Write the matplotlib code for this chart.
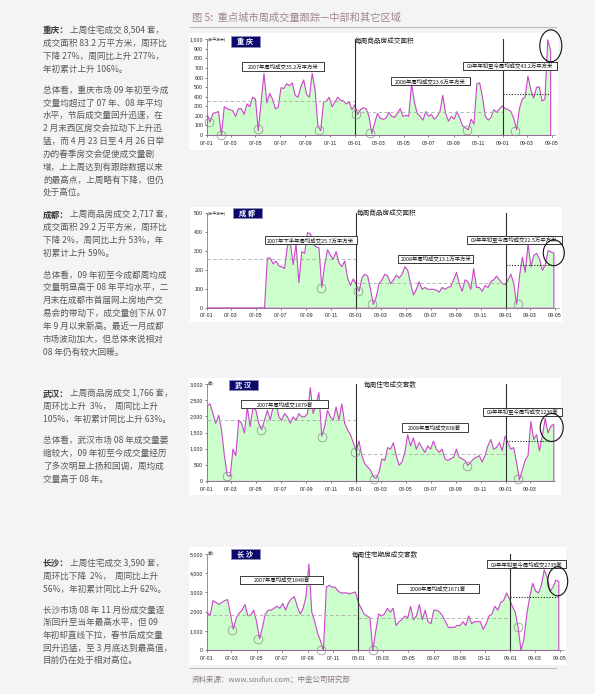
import pandas as pd
import matplotlib
matplotlib.use('Agg')
import matplotlib.pyplot as plt
import matplotlib.dates as mdates
from matplotlib.patches import Ellipse, Rectangle
from matplotlib.ticker import FuncFormatter, MultipleLocator

plt.rcParams['font.family'] = ['Noto Sans CJK SC', 'DejaVu Sans']

W, H = 595, 694
PAGE = '#f4f4f4'
FILL = '#ccffcc'
LINE = '#cc44cc'

# weekly data, first week 2007-01-01
weeks = pd.date_range('2007-01-01', periods=122, freq='7D')

# 重庆 每周商品房成交面积 (千平方米)
cq_area = [220, 140, 230, 240, 250, 0, 300, 280, 270, 260, 200, 280, 280, 220, 330, 300,
           400, 380, 50, 350, 650, 340,
           440, 380, 280, 290, 500, 490, 540, 520, 550, 420, 400, 510, 580, 430, 400, 650,
           480, 100, 50, 350, 360, 400, 300, 350, 400, 370, 360, 330, 350, 270,
           320, 220, 270, 290, 280, 200, 20, 130, 230, 180, 170, 180, 240, 200, 190, 230,
           280, 200, 210, 200, 540, 350, 230, 200, 160, 250, 200, 220, 170, 200, 250,
           420, 230, 150, 200, 170, 250, 180, 100, 80, 60, 170, 120, 540, 550, 400, 200,
           160, 190, 270, 240, 280, 310, 280, 270, 250, 180, 60, 280, 380, 400, 620, 480,
           390, 500, 510, 360, 380, 1000, 880]

# 成都 每周商品房成交面积 (千平方米)
cd_area = [0] * 21 + [
    265, 265, 235, 250, 225, 220, 210, 330, 350, 230, 340, 135, 300, 290, 400, 395,
    340, 325, 320, 110, 230, 310, 280, 260, 300, 240, 220, 250, 160, 120, 155, 125,
    90, 160, 180, 170, 100, 20, 60, 130, 150, 180, 170, 130, 150, 175, 160, 180, 220, 200,
    130, 70, 100, 140, 100, 110, 100, 100, 100, 95, 85, 110, 100, 110, 115, 150, 190,
    130, 90, 150, 140, 100, 210, 110, 110, 90, 120, 110, 140, 150, 170, 150, 130, 125,
    150, 180, 130, 20, 170, 270, 190, 340, 220, 280, 290, 260, 200, 230, 305, 298, 292]

# 武汉 每周住宅成交套数
wh_units = [2350, 2400, 2100, 1800, 2050, 1600, 800, 200, 150, 1000,
            800, 1900, 1800, 1500, 2300, 1700, 2300, 2200, 1800, 1600,
            1900, 2200, 1900, 2300, 2500, 2000, 1900, 2100, 2000, 1800,
            2000, 1900, 2100, 2000, 2000, 2100, 2900, 2100, 2400, 2750,
            1400, 1700, 2200, 2000, 1900, 2300, 1900, 2400, 1800, 1600,
            1450, 1200, 950, 1250, 800, 550, 450, 350, 150, 100,
            300, 700, 650, 1050, 1000, 1200, 800, 500, 600, 900,
            1450, 1100, 1350, 1000, 1200, 1050, 900, 1100, 1000, 1250,
            1000, 900, 1000, 700, 650, 700, 750, 1000, 750, 700,
            650, 500, 600, 700, 750, 800, 600, 800, 1100, 1300,
            1000, 1050, 1200, 950, 1400, 1200, 1000, 1050, 600, 50,
            350, 650, 800, 1850, 1300, 1450, 950, 1400, 1950, 1500,
            1715, 1766]

# 长沙 每周住宅期房成交套数
cs_units = [2000, 1800, 2600, 2500, 2400, 2500, 2600, 2650, 1900, 1100,
            1700, 1950, 2100, 2400, 1800, 1850, 2100, 1500, 600, 1200,
            1900, 2100, 2100, 2200, 2300, 2200, 2450, 2100, 2500, 2700,
            2800, 2300, 1900, 2200, 2800, 4500, 2000, 1500, 900, 500,
            0, 3300, 3400, 3300, 3300, 3100, 3000, 3000, 3000, 2950,
            3000, 3050, 2500, 2200, 1900, 1800, 1700, 0, 1000, 1900,
            1800, 1900, 2200, 2000, 2200, 1300, 1500, 1600, 1800, 1700,
            2300, 1600, 1800, 2400, 1600, 2100, 1500, 1400, 2100, 2100,
            2000, 1800, 1500, 1200, 1200, 1200, 1300, 1300, 1500, 1300,
            1800, 1400, 1500, 1500, 1500, 1100, 1400, 1800, 1900, 2300,
            2100, 2500, 2600, 3000, 2700, 2300, 2000, 1200, 0, 600,
            1900, 2800, 3500, 3100, 3000, 3400, 4200, 3800, 3100, 3300,
            3663, 3590]

# weekly averages: 2007, 2008, 2009 YTD
cq_avg = [352, 236, 432]
cd_avg = [257, 131, 225]
wh_avg = [1879, 838, 1236]
cs_avg = [1848, 1671, 2735]

cq_notes = ['2007年周均成交35.2万平方米', '2008年周均成交23.6万平方米', '09年年初至今周均成交43.2万平方米']
cd_notes = ['2007年下半年周均成交25.7万平方米', '2008年周均成交13.1万平方米', '09年年初至今周均成交22.5万平方米']
wh_notes = ['2007年周均成交1879套', '2008年周均成交838套', '09年年初至今周均成交1236套']
cs_notes = ['2007年周均成交1848套', '2008年周均成交1671套', '09年年初至今周均成交2735套']

# circled low points: (week index, value)
cq_marks = [(0.9, 139), (5, 0), (17.9, 63), (39.6, 52), (52.7, 216), (57.7, 17), (91.7, 52), (108.5, 45)]
cd_marks = [(39.9, 106), (52.9, 88), (57.6, 18), (108.7, 18)]
wh_marks = [(7, 155), (19, 1577), (40.1, 1350), (51.7, 897), (58.5, 72), (91, 474), (108.7, 62)]
cs_marks = [(8.8, 1042), (17.7, 556), (39.5, 0), (57.4, 0), (107, 1180)]

# left column text
cq_text = [['重庆：', '上周住宅成交 8,504 套，', '成交面积 83.2 万平方米，周环比', '下降 27%，周同比上升 277%，',
            '年初累计上升 106%。'],
           ['总体看，重庆市场 09 年初至今成', '交量均超过了 07 年、08 年平均', '水平，节后成交量回升迅速，在',
            '2 月末西区房交会拉动下上升迅', '猛，而 4 月 23 日至 4 月 26 日举', '办的春季房交会促使成交量剧',
            '增，上上周达到有跟踪数据以来', '的最高点，上周略有下降，但仍', '处于高位。']]
cd_text = [['成都：', '上周商品房成交 2,717 套，', '成交面积 29.2 万平方米，周环比', '下降 2%，周同比上升 53%，年',
            '初累计上升 59%。'],
           ['总体看，09 年初至今成都周均成', '交量明显高于 08 年平均水平，二', '月末在成都市首届网上房地产交',
            '易会的带动下，成交量创下从 07', '年 9 月以来新高。最近一月成都', '市场波动加大，但总体来说相对',
            '08 年仍有较大回暖。']]
wh_text = [['武汉：', '上周商品房成交 1,766 套，', '周环比上升  3%，  周同比上升', '105%，年初累计同比上升 63%。'],
           ['总体看，武汉市场 08 年成交量萎', '缩较大，09 年初至今成交量经历', '了多次明显上扬和回调，周均成',
            '交量高于 08 年。']]
cs_text = [['长沙：', '上周住宅成交 3,590 套，', '周环比下降  2%，  周同比上升', '56%，年初累计同比上升 62%。'],
           ['长沙市场 08 年 11 月份成交量逐', '渐回升至当年最高水平，但 09', '年初却直线下拉，春节后成交量',
            '回升迅猛，至 3 月底达到最高值，', '目前仍在处于相对高位。']]


def fx(x):
    return x / W


def fy(y):
    return 1 - y / H


def px_box(fig, cx, cy, w, h, **kw):
    fig.add_artist(Rectangle((fx(cx - w / 2), fy(cy + h / 2)), w / W, h / H,
                             transform=fig.transFigure, **kw))


def draw_city(fig, cfg, values, avg, notes, marks, end):
    left, top, width, height = cfg['rect']
    # white panel behind the chart
    pl, pt, pr, pb = cfg['panel']
    fig.add_artist(Rectangle((fx(pl), fy(pb)), (pr - pl) / W, (pb - pt) / H,
                             transform=fig.transFigure, facecolor='white',
                             edgecolor='none', zorder=-1))
    ax = fig.add_axes([fx(left), fy(top + height), width / W, height / H])
    ax.set_facecolor('none')
    ax.fill_between(weeks, values, color=FILL, edgecolor=LINE, linewidth=0.8, zorder=2)

    y07 = pd.Timestamp('2007-01-01')
    y08 = pd.Timestamp('2008-01-01')
    y09 = pd.Timestamp('2009-01-01')
    ax.hlines(avg[0], y07, y08, colors='#a8a8a8', linestyles=(0, (4, 3)), linewidth=0.6, zorder=3)
    ax.hlines(avg[1], y08, y09, colors='#a8a8a8', linestyles=(0, (4, 3)), linewidth=0.6, zorder=3)
    ax.hlines(avg[2], y09, weeks[-1], colors='#202020', linestyles=(0, (1, 1.5)), linewidth=0.8, zorder=3)
    ax.axvline(y08, color='#303030', linewidth=0.8, zorder=4)
    ax.axvline(y09, color='#303030', linewidth=0.8, zorder=4)

    for wk, v in marks:
        ax.plot(weeks[0] + pd.Timedelta(days=7 * wk), v, marker='o', markersize=6.3,
                markerfacecolor='none', markeredgecolor='#8a8a8a', markeredgewidth=0.5,
                zorder=5, clip_on=False)

    ax.set_xlim(weeks[0], pd.Timestamp(end))
    ax.set_ylim(0, cfg['ymax'])
    ax.xaxis.set_major_locator(mdates.MonthLocator(bymonth=[1, 3, 5, 7, 9, 11]))
    ax.xaxis.set_major_formatter(mdates.DateFormatter('%y-%m'))
    ax.yaxis.set_major_locator(MultipleLocator(cfg['ystep']))
    ax.yaxis.set_major_formatter(FuncFormatter(lambda v, p: f'{int(v):,}'))
    ax.tick_params(axis='both', length=1.5, width=0.4, labelsize=3.8, colors='#202020')
    ax.tick_params(axis='x', pad=2.5)
    ax.tick_params(axis='y', pad=1)
    for lab in ax.get_xticklabels() + ax.get_yticklabels():
        lab.set_family('Liberation Sans')
    for s in ['top', 'right']:
        ax.spines[s].set_visible(False)
    ax.spines['left'].set_color('#808080')
    ax.spines['left'].set_linewidth(0.6)
    ax.spines['bottom'].set_color('#808080')
    ax.spines['bottom'].set_linewidth(0.5)

    # city tag
    cx, cy = cfg['tag']
    px_box(fig, cx, cy, 29, 10, facecolor='#0a0a6e', edgecolor='#9090b0', linewidth=0.5, zorder=6)
    fig.text(fx(cx), fy(cy), cfg['city'], color='white', fontsize=5.2, fontweight='bold',
             ha='center', va='center', zorder=7)
    ux, uy = cfg['unit']
    fig.text(fx(ux), fy(uy), cfg['unit_text'], fontsize=2.8, color='#303030', va='center', zorder=7)
    tx, ty = cfg['title_pos']
    fig.text(fx(tx), fy(ty), cfg['title'], fontsize=4.8, color='#202020', va='center', zorder=7)

    for (bx, by, bw), txt in zip(cfg['boxes'], notes):
        px_box(fig, bx + 0.8, by + 0.8, bw, 8.3, facecolor='#909090', edgecolor='none', zorder=6)
        px_box(fig, bx, by, bw, 8.3, facecolor='white', edgecolor='#202020', linewidth=0.6, zorder=6)
        fig.text(fx(bx), fy(by), txt, fontsize=3.9, color='#101010', ha='center', va='center', zorder=7)

    ex, ey, ew, eh = cfg['ellipse']
    fig.add_artist(Ellipse((fx(ex), fy(ey)), ew / W, eh / H, transform=fig.transFigure,
                           fill=False, edgecolor='#101010', linewidth=0.8, zorder=8))
    return ax


def draw_text(fig, blocks, starts):
    step = 12.85
    for para, y0 in zip(blocks, starts):
        lines = para
        if para[0].endswith('：') and len(para[0]) == 3:
            fig.text(fx(43), fy(y0), para[0], fontsize=6.2, fontweight='bold',
                     color='#383838', va='center')
            fig.text(fx(70), fy(y0), para[1], fontsize=6.2, color='#585858', va='center')
            lines = para[2:]
            y0 += step
        for i, line in enumerate(lines):
            fig.text(fx(43), fy(y0 + i * step), line, fontsize=6.2, color='#585858', va='center')


fig = plt.figure(figsize=(W / 100, H / 100), dpi=100, facecolor=PAGE)

# figure title and source
fig.text(fx(192), fy(18), '图 5:  重点城市周成交量跟踪—中部和其它区域', fontsize=7.4,
         color='#a08689', style='italic', va='center')
fig.add_artist(plt.Line2D([fx(190), fx(556)], [fy(27), fy(27)], color='#c9b7b7', linewidth=0.8))
fig.add_artist(plt.Line2D([fx(190), fx(556)], [fy(668), fy(668)], color='#c9b7b7', linewidth=0.8))
fig.text(fx(192), fy(680), '资料来源：www.soufun.com；中金公司研究部', fontsize=5.4,
         color='#8a7b7b', style='italic', va='center')

cq_cfg = dict(rect=(206.7, 39.3, 348.7, 95.7), panel=(189, 33, 558, 150), ymax=1000, ystep=100,
              city='重 庆', tag=(245.5, 41.5), unit=(208, 40), unit_text='(万平方米)',
              title='每周商品房成交面积', title_pos=(355, 41),
              boxes=[(283, 66.5, 82.7), (430.5, 81.3, 79), (509.7, 65.8, 94)],
              ellipse=(550.8, 45.8, 22, 32))
cd_cfg = dict(rect=(206.7, 213.3, 352, 94.4), panel=(190, 207, 562, 322), ymax=500, ystep=100,
              city='成 都', tag=(247, 213.3), unit=(208, 214), unit_text='(万平方米)',
              title='每周商品房成交面积', title_pos=(356.7, 212.5),
              boxes=[(310.8, 240.2, 91.7), (435.8, 258.8, 75), (514.2, 239.8, 95)],
              ellipse=(553.8, 252.8, 21, 25.7))
wh_cfg = dict(rect=(206.7, 384, 347.8, 97), panel=(189, 378, 561, 495), ymax=3000, ystep=500,
              city='武 汉', tag=(243.3, 385), unit=(208, 384.5), unit_text='(套)',
              title='每周住宅成交套数', title_pos=(363.3, 385),
              boxes=[(284.7, 404.2, 87.3), (434.7, 427.5, 66), (522.5, 411.8, 78.3)],
              ellipse=(551.7, 427.5, 23, 28))
cs_cfg = dict(rect=(206.7, 554, 357, 96), panel=(189, 547, 566, 665), ymax=5000, ystep=1000,
              city='长 沙', tag=(245, 554.3), unit=(208, 554), unit_text='(套)',
              title='每周住宅期房成交套数', title_pos=(351.7, 555),
              boxes=[(281.7, 580, 83.3), (437.8, 588.5, 82.3), (526.2, 564.2, 79)],
              ellipse=(557.7, 581.3, 20, 29))

draw_city(fig, cq_cfg, cq_area, cq_avg, cq_notes, cq_marks, '2009-05-10')
draw_city(fig, cd_cfg, cd_area, cd_avg, cd_notes, cd_marks, '2009-05-10')
draw_city(fig, wh_cfg, wh_units, wh_avg, wh_notes, wh_marks, '2009-04-30')
draw_city(fig, cs_cfg, cs_units, cs_avg, cs_notes, cs_marks, '2009-05-10')

draw_text(fig, cq_text, [30.7, 90])
draw_text(fig, cd_text, [215, 275])
draw_text(fig, wh_text, [394, 440.7])
draw_text(fig, cs_text, [563.3, 610])

fig.savefig('out.png', dpi=100, facecolor=PAGE)
